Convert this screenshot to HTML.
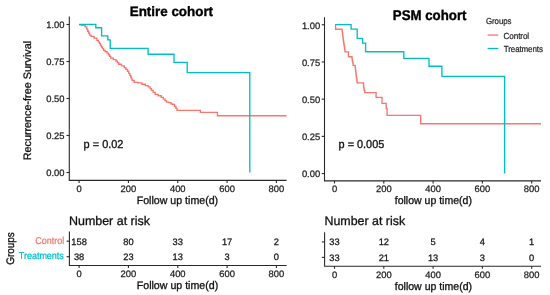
<!DOCTYPE html>
<html><head><meta charset="utf-8"><title>Survival curves</title>
<style>
html,body{margin:0;padding:0;background:#fff;}
body{width:550px;height:295px;overflow:hidden;}
svg{display:block;}
text{font-family:"Liberation Sans",Arial,sans-serif;text-rendering:geometricPrecision;}
</style></head>
<body>
<svg width="550" height="295" viewBox="0 0 550 295">
<rect width="550" height="295" fill="#fff"/>
<path d="M69.3 16.6V180.4H286.6" fill="none" stroke="#2a2a2a" stroke-width="1.1"/>
<path d="M66.5 24.5H69.3" stroke="#2a2a2a" stroke-width="1.1"/>
<text transform="translate(64.45 28.1)" text-anchor="end" style="font-size:9.4px;letter-spacing:0.000px;fill:#1a1a1a;stroke:#1a1a1a;stroke-width:0.25px">1.00</text>
<path d="M66.5 61.5H69.3" stroke="#2a2a2a" stroke-width="1.1"/>
<text transform="translate(64.45 65.1)" text-anchor="end" style="font-size:9.4px;letter-spacing:0.000px;fill:#1a1a1a;stroke:#1a1a1a;stroke-width:0.25px">0.75</text>
<path d="M66.5 98.5H69.3" stroke="#2a2a2a" stroke-width="1.1"/>
<text transform="translate(64.45 102.1)" text-anchor="end" style="font-size:9.4px;letter-spacing:0.000px;fill:#1a1a1a;stroke:#1a1a1a;stroke-width:0.25px">0.50</text>
<path d="M66.5 135.5H69.3" stroke="#2a2a2a" stroke-width="1.1"/>
<text transform="translate(64.45 139.1)" text-anchor="end" style="font-size:9.4px;letter-spacing:0.000px;fill:#1a1a1a;stroke:#1a1a1a;stroke-width:0.25px">0.25</text>
<path d="M66.5 172.5H69.3" stroke="#2a2a2a" stroke-width="1.1"/>
<text transform="translate(64.45 176.1)" text-anchor="end" style="font-size:9.4px;letter-spacing:0.000px;fill:#1a1a1a;stroke:#1a1a1a;stroke-width:0.25px">0.00</text>
<path d="M79.1 180.4V183" stroke="#2a2a2a" stroke-width="1.1"/>
<text transform="translate(79.1 191.7)" text-anchor="middle" style="font-size:9.4px;letter-spacing:0.000px;fill:#1a1a1a;stroke:#1a1a1a;stroke-width:0.25px">0</text>
<path d="M128.43 180.4V183" stroke="#2a2a2a" stroke-width="1.1"/>
<text transform="translate(128.43 191.7)" text-anchor="middle" style="font-size:9.4px;letter-spacing:0.000px;fill:#1a1a1a;stroke:#1a1a1a;stroke-width:0.25px">200</text>
<path d="M177.76 180.4V183" stroke="#2a2a2a" stroke-width="1.1"/>
<text transform="translate(177.76 191.7)" text-anchor="middle" style="font-size:9.4px;letter-spacing:0.000px;fill:#1a1a1a;stroke:#1a1a1a;stroke-width:0.25px">400</text>
<path d="M227.09 180.4V183" stroke="#2a2a2a" stroke-width="1.1"/>
<text transform="translate(227.09 191.7)" text-anchor="middle" style="font-size:9.4px;letter-spacing:0.000px;fill:#1a1a1a;stroke:#1a1a1a;stroke-width:0.25px">600</text>
<path d="M276.42 180.4V183" stroke="#2a2a2a" stroke-width="1.1"/>
<text transform="translate(276.42 191.7)" text-anchor="middle" style="font-size:9.4px;letter-spacing:0.000px;fill:#1a1a1a;stroke:#1a1a1a;stroke-width:0.25px">800</text>
<path d="M324.5 17.2V180.85H541" fill="none" stroke="#2a2a2a" stroke-width="1.1"/>
<path d="M321.7 24.75H324.5" stroke="#2a2a2a" stroke-width="1.1"/>
<text transform="translate(320.15 28.6)" text-anchor="end" style="font-size:9.4px;letter-spacing:0.000px;fill:#1a1a1a;stroke:#1a1a1a;stroke-width:0.25px">1.00</text>
<path d="M321.7 61.95H324.5" stroke="#2a2a2a" stroke-width="1.1"/>
<text transform="translate(320.15 65.8)" text-anchor="end" style="font-size:9.4px;letter-spacing:0.000px;fill:#1a1a1a;stroke:#1a1a1a;stroke-width:0.25px">0.75</text>
<path d="M321.7 99.15H324.5" stroke="#2a2a2a" stroke-width="1.1"/>
<text transform="translate(320.15 103)" text-anchor="end" style="font-size:9.4px;letter-spacing:0.000px;fill:#1a1a1a;stroke:#1a1a1a;stroke-width:0.25px">0.50</text>
<path d="M321.7 136.35H324.5" stroke="#2a2a2a" stroke-width="1.1"/>
<text transform="translate(320.15 140.2)" text-anchor="end" style="font-size:9.4px;letter-spacing:0.000px;fill:#1a1a1a;stroke:#1a1a1a;stroke-width:0.25px">0.25</text>
<path d="M321.7 173.55H324.5" stroke="#2a2a2a" stroke-width="1.1"/>
<text transform="translate(320.15 177.4)" text-anchor="end" style="font-size:9.4px;letter-spacing:0.000px;fill:#1a1a1a;stroke:#1a1a1a;stroke-width:0.25px">0.00</text>
<path d="M334.5 180.85V183.45" stroke="#2a2a2a" stroke-width="1.1"/>
<text transform="translate(334.5 192.15)" text-anchor="middle" style="font-size:9.4px;letter-spacing:0.000px;fill:#1a1a1a;stroke:#1a1a1a;stroke-width:0.25px">0</text>
<path d="M383.8 180.85V183.45" stroke="#2a2a2a" stroke-width="1.1"/>
<text transform="translate(383.8 192.15)" text-anchor="middle" style="font-size:9.4px;letter-spacing:0.000px;fill:#1a1a1a;stroke:#1a1a1a;stroke-width:0.25px">200</text>
<path d="M433.1 180.85V183.45" stroke="#2a2a2a" stroke-width="1.1"/>
<text transform="translate(433.1 192.15)" text-anchor="middle" style="font-size:9.4px;letter-spacing:0.000px;fill:#1a1a1a;stroke:#1a1a1a;stroke-width:0.25px">400</text>
<path d="M482.4 180.85V183.45" stroke="#2a2a2a" stroke-width="1.1"/>
<text transform="translate(482.4 192.15)" text-anchor="middle" style="font-size:9.4px;letter-spacing:0.000px;fill:#1a1a1a;stroke:#1a1a1a;stroke-width:0.25px">600</text>
<path d="M531.7 180.85V183.45" stroke="#2a2a2a" stroke-width="1.1"/>
<text transform="translate(531.7 192.15)" text-anchor="middle" style="font-size:9.4px;letter-spacing:0.000px;fill:#1a1a1a;stroke:#1a1a1a;stroke-width:0.25px">800</text>
<path d="M79.1 24.7H81.6V25.2H84.1H85.1V26.9H86.1H86.62V29.05H87.67V31.2H88.2H88.65V33.15H89.55V35.1H90H91.15V36.3H92.3H94.05V38.1H95.8H96.85V40.4H97.9H98.4V41.9H99.4V43.4H99.9H100.4V45.2H101.4V47H101.9H102.48V48.65H103.62V50.3H104.2H105.12V51.7H106.98V53.1H107.9H108.47V54.77H109.6V56.43H110.73V58.1H111.3H113.3V59.6H115.3H115.98V61.13H117.35V62.67H118.72V64.2H119.4H121.45V65.8H123.5H124.28V67.6H125.85V69.4H127.42V71.2H128.2H128.75V73.3H129.85V75.4H130.4H130.75V77.1H131.45V78.8H132.15V80.5H132.5H134.15V82.4H135.8H137.85V82.9H139.9H141.95V84.2H144H145.35V85.55H148.05V86.9H149.4H150.07V88.6H151.43V90.3H152.1H153.12V92.35H155.17V94.4H156.2H158.2V95.7H160.2H161.22V97.4H163.28V99.1H164.3H165.03V100.6H166.47V102.1H167.2H168.85V102.6H170.5H171V103.9H171.5H172.6V104.3H173.7H174.55V106.5H175.4H175.93V108.4H176.97V110.3H177.5L200.4 110.3L200.4 112.4L217.4 112.4L217.4 115.7L286.6 115.7" fill="none" stroke="#F8766D" stroke-width="1.35"/>
<path d="M335.6 24.6L335.6 29.2L342 29.2H342.12V31.07H342.35V32.93H342.58V34.8H342.82V36.67H343.05V38.53H343.28V40.4H343.4H343.55V42.32H343.85V44.23H344.15V46.15H344.45V48.07H344.75V49.98H345.05V51.9H345.2L348.4 51.9L348.4 56.7L351.8 56.7H351.99V58.85H352.36V61H352.74V63.15H353.11V65.3H353.3L355 65.3H355.12V67.24H355.37V69.19H355.61V71.13H355.86V73.08H356.1V75.02H356.34V76.97H356.59V78.91H356.83V80.86H357.08V82.8H357.2L363.4 82.8H363.47V84.53H363.6V86.27H363.73V88H363.8H364.12V90.3H364.78V92.6H365.1L376.1 92.6L376.1 97.4L382 97.4L382 103.4L386.2 103.4L386.2 108.5L387.1 108.5L387.1 115.3L420.7 115.3L420.7 123.7L541 123.7" fill="none" stroke="#F8766D" stroke-width="1.35"/>
<path d="M79.1 24.3H95.8V27.7H101.6V35.8H107.8V39.8H110.2V48.3H148.1V54.2H174V62.4H187.2V72.6H249.8V172.5" fill="none" stroke="#00BFC4" stroke-width="1.35"/>
<path d="M335.1 24.6H351.1V29.1H357.2V38.3H362.6V43.1H365.6V51.7H403.8V58.3H429V66.2H441.9V76.4H504.6V173.5" fill="none" stroke="#00BFC4" stroke-width="1.35"/>
<text transform="translate(129.73 16) scale(1 1.020)" style="font-size:13.40px;letter-spacing:0.000px;fill:#000;stroke:#000;stroke-width:0.35px" font-weight="bold">Entire cohort</text>
<text transform="translate(392.84 19.6) scale(1 1.060)" style="font-size:13.26px;letter-spacing:0.000px;fill:#000;stroke:#000;stroke-width:0.35px" font-weight="bold">PSM cohort</text>
<text transform="translate(30.6 160.29) rotate(-90)" style="font-size:10.80px;letter-spacing:0.000px;fill:#111;stroke:#111;stroke-width:0.3px">Recurrence-free Survival</text>
<text transform="translate(136.73 203.9) scale(1 1.040)" style="font-size:10.62px;letter-spacing:0.000px;fill:#111;stroke:#111;stroke-width:0.3px">Follow up time(d)</text>
<text transform="translate(394.75 204.3) scale(1 1.040)" style="font-size:10.52px;letter-spacing:0.000px;fill:#111;stroke:#111;stroke-width:0.3px">follow up time(d)</text>
<text transform="translate(83.59 147.8) scale(1 1.050)" style="font-size:10.94px;letter-spacing:0.000px;fill:#111;stroke:#111;stroke-width:0.3px">p = 0.02</text>
<text transform="translate(338.59 148.4) scale(1 1.050)" style="font-size:10.88px;letter-spacing:0.000px;fill:#111;stroke:#111;stroke-width:0.3px">p = 0.005</text>
<text transform="translate(486.06 24) scale(1 1.100)" style="font-size:7.89px;letter-spacing:-0.100px;fill:#222;stroke:#222;stroke-width:0.2px">Groups</text>
<path d="M487.6 35.1H498.3" stroke="#F8766D" stroke-width="1.3"/>
<path d="M487.6 48.5H498.3" stroke="#00BFC4" stroke-width="1.3"/>
<text transform="translate(503.53 38.9) scale(1 1.100)" style="font-size:8.15px;letter-spacing:-0.100px;fill:#222;stroke:#222;stroke-width:0.2px">Control</text>
<text transform="translate(503.77 52.1) scale(1 1.100)" style="font-size:7.98px;letter-spacing:-0.100px;fill:#222;stroke:#222;stroke-width:0.2px">Treatments</text>
<path d="M69.4 231.6V265.45H286.6" fill="none" stroke="#2a2a2a" stroke-width="1.1"/>
<path d="M66.6 241.2H69.4" stroke="#2a2a2a" stroke-width="1.1"/>
<path d="M66.6 256.7H69.4" stroke="#2a2a2a" stroke-width="1.1"/>
<path d="M79.1 265.45V268.05" stroke="#2a2a2a" stroke-width="1.1"/>
<text transform="translate(79.1 276.75)" text-anchor="middle" style="font-size:9.4px;letter-spacing:0.000px;fill:#1a1a1a;stroke:#1a1a1a;stroke-width:0.25px">0</text>
<text transform="translate(79.1 244.6)" text-anchor="middle" style="font-size:9.3px;letter-spacing:0.000px;fill:#111;stroke:#111;stroke-width:0.25px">158</text>
<text transform="translate(79.1 260.1)" text-anchor="middle" style="font-size:9.3px;letter-spacing:0.000px;fill:#111;stroke:#111;stroke-width:0.25px">38</text>
<path d="M128.43 265.45V268.05" stroke="#2a2a2a" stroke-width="1.1"/>
<text transform="translate(128.43 276.75)" text-anchor="middle" style="font-size:9.4px;letter-spacing:0.000px;fill:#1a1a1a;stroke:#1a1a1a;stroke-width:0.25px">200</text>
<text transform="translate(128.43 244.6)" text-anchor="middle" style="font-size:9.3px;letter-spacing:0.000px;fill:#111;stroke:#111;stroke-width:0.25px">80</text>
<text transform="translate(128.43 260.1)" text-anchor="middle" style="font-size:9.3px;letter-spacing:0.000px;fill:#111;stroke:#111;stroke-width:0.25px">23</text>
<path d="M177.76 265.45V268.05" stroke="#2a2a2a" stroke-width="1.1"/>
<text transform="translate(177.76 276.75)" text-anchor="middle" style="font-size:9.4px;letter-spacing:0.000px;fill:#1a1a1a;stroke:#1a1a1a;stroke-width:0.25px">400</text>
<text transform="translate(177.76 244.6)" text-anchor="middle" style="font-size:9.3px;letter-spacing:0.000px;fill:#111;stroke:#111;stroke-width:0.25px">33</text>
<text transform="translate(177.76 260.1)" text-anchor="middle" style="font-size:9.3px;letter-spacing:0.000px;fill:#111;stroke:#111;stroke-width:0.25px">13</text>
<path d="M227.09 265.45V268.05" stroke="#2a2a2a" stroke-width="1.1"/>
<text transform="translate(227.09 276.75)" text-anchor="middle" style="font-size:9.4px;letter-spacing:0.000px;fill:#1a1a1a;stroke:#1a1a1a;stroke-width:0.25px">600</text>
<text transform="translate(227.09 244.6)" text-anchor="middle" style="font-size:9.3px;letter-spacing:0.000px;fill:#111;stroke:#111;stroke-width:0.25px">17</text>
<text transform="translate(227.09 260.1)" text-anchor="middle" style="font-size:9.3px;letter-spacing:0.000px;fill:#111;stroke:#111;stroke-width:0.25px">3</text>
<path d="M276.42 265.45V268.05" stroke="#2a2a2a" stroke-width="1.1"/>
<text transform="translate(276.42 276.75)" text-anchor="middle" style="font-size:9.4px;letter-spacing:0.000px;fill:#1a1a1a;stroke:#1a1a1a;stroke-width:0.25px">800</text>
<text transform="translate(276.42 244.6)" text-anchor="middle" style="font-size:9.3px;letter-spacing:0.000px;fill:#111;stroke:#111;stroke-width:0.25px">2</text>
<text transform="translate(276.42 260.1)" text-anchor="middle" style="font-size:9.3px;letter-spacing:0.000px;fill:#111;stroke:#111;stroke-width:0.25px">0</text>
<text transform="translate(68.98 224.5)" style="font-size:12.46px;letter-spacing:0.000px;fill:#111;stroke:#111;stroke-width:0.3px">Number at risk</text>
<text transform="translate(136.73 289.1) scale(1 1.040)" style="font-size:10.63px;letter-spacing:0.000px;fill:#111;stroke:#111;stroke-width:0.3px">Follow up time(d)</text>
<path d="M324.6 232.3V266.2H541" fill="none" stroke="#2a2a2a" stroke-width="1.1"/>
<path d="M321.8 241.9H324.6" stroke="#2a2a2a" stroke-width="1.1"/>
<path d="M321.8 257.4H324.6" stroke="#2a2a2a" stroke-width="1.1"/>
<path d="M334.5 266.2V268.8" stroke="#2a2a2a" stroke-width="1.1"/>
<text transform="translate(334.5 277.5)" text-anchor="middle" style="font-size:9.4px;letter-spacing:0.000px;fill:#1a1a1a;stroke:#1a1a1a;stroke-width:0.25px">0</text>
<text transform="translate(334.5 245.3)" text-anchor="middle" style="font-size:9.3px;letter-spacing:0.000px;fill:#111;stroke:#111;stroke-width:0.25px">33</text>
<text transform="translate(334.5 260.8)" text-anchor="middle" style="font-size:9.3px;letter-spacing:0.000px;fill:#111;stroke:#111;stroke-width:0.25px">33</text>
<path d="M383.8 266.2V268.8" stroke="#2a2a2a" stroke-width="1.1"/>
<text transform="translate(383.8 277.5)" text-anchor="middle" style="font-size:9.4px;letter-spacing:0.000px;fill:#1a1a1a;stroke:#1a1a1a;stroke-width:0.25px">200</text>
<text transform="translate(383.8 245.3)" text-anchor="middle" style="font-size:9.3px;letter-spacing:0.000px;fill:#111;stroke:#111;stroke-width:0.25px">12</text>
<text transform="translate(383.8 260.8)" text-anchor="middle" style="font-size:9.3px;letter-spacing:0.000px;fill:#111;stroke:#111;stroke-width:0.25px">21</text>
<path d="M433.1 266.2V268.8" stroke="#2a2a2a" stroke-width="1.1"/>
<text transform="translate(433.1 277.5)" text-anchor="middle" style="font-size:9.4px;letter-spacing:0.000px;fill:#1a1a1a;stroke:#1a1a1a;stroke-width:0.25px">400</text>
<text transform="translate(433.1 245.3)" text-anchor="middle" style="font-size:9.3px;letter-spacing:0.000px;fill:#111;stroke:#111;stroke-width:0.25px">5</text>
<text transform="translate(433.1 260.8)" text-anchor="middle" style="font-size:9.3px;letter-spacing:0.000px;fill:#111;stroke:#111;stroke-width:0.25px">13</text>
<path d="M482.4 266.2V268.8" stroke="#2a2a2a" stroke-width="1.1"/>
<text transform="translate(482.4 277.5)" text-anchor="middle" style="font-size:9.4px;letter-spacing:0.000px;fill:#1a1a1a;stroke:#1a1a1a;stroke-width:0.25px">600</text>
<text transform="translate(482.4 245.3)" text-anchor="middle" style="font-size:9.3px;letter-spacing:0.000px;fill:#111;stroke:#111;stroke-width:0.25px">4</text>
<text transform="translate(482.4 260.8)" text-anchor="middle" style="font-size:9.3px;letter-spacing:0.000px;fill:#111;stroke:#111;stroke-width:0.25px">3</text>
<path d="M531.7 266.2V268.8" stroke="#2a2a2a" stroke-width="1.1"/>
<text transform="translate(531.7 277.5)" text-anchor="middle" style="font-size:9.4px;letter-spacing:0.000px;fill:#1a1a1a;stroke:#1a1a1a;stroke-width:0.25px">800</text>
<text transform="translate(531.7 245.3)" text-anchor="middle" style="font-size:9.3px;letter-spacing:0.000px;fill:#111;stroke:#111;stroke-width:0.25px">1</text>
<text transform="translate(531.7 260.8)" text-anchor="middle" style="font-size:9.3px;letter-spacing:0.000px;fill:#111;stroke:#111;stroke-width:0.25px">0</text>
<text transform="translate(324.48 224.8)" style="font-size:12.41px;letter-spacing:0.000px;fill:#111;stroke:#111;stroke-width:0.3px">Number at risk</text>
<text transform="translate(394.75 289.7) scale(1 1.040)" style="font-size:10.56px;letter-spacing:0.000px;fill:#111;stroke:#111;stroke-width:0.3px">follow up time(d)</text>
<text transform="translate(35.29 244.1) scale(1 1.100)" style="font-size:9.05px;letter-spacing:-0.050px;fill:#F8766D;stroke:#F8766D;stroke-width:0.2px">Control</text>
<text transform="translate(18.85 259.2) scale(1 1.100)" style="font-size:9.06px;letter-spacing:-0.050px;fill:#00BFC4;stroke:#00BFC4;stroke-width:0.2px">Treatments</text>
<text transform="translate(13.9 264.8) rotate(-90) scale(1 1.100)" style="font-size:9.96px;letter-spacing:0.000px;fill:#111;stroke:#111;stroke-width:0.3px">Groups</text>
</svg>
</body></html>
